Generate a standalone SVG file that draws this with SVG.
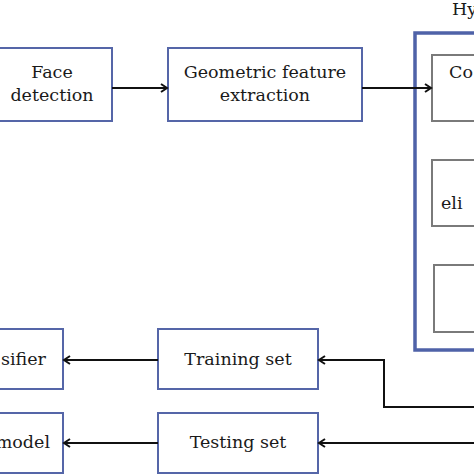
<svg xmlns="http://www.w3.org/2000/svg" width="474" height="474" viewBox="0 0 474 474">
<defs>
<marker id="ah" markerWidth="10" markerHeight="10" refX="8" refY="5" orient="auto" markerUnits="userSpaceOnUse">
<path d="M2,1 L8,5 L2,9" fill="none" stroke="#111" stroke-width="2"/>
</marker>
<style>
.box{fill:#fff;stroke:#5566a8;stroke-width:2}
.inner{fill:#fff;stroke:#7a7a7a;stroke-width:2}
.big{fill:none;stroke:#4f62a8;stroke-width:3.5}
.t{font-family:"DejaVu Serif","Liberation Serif",serif;font-size:17.5px;fill:#1a1a1a}
.c{text-anchor:middle}
.ln{fill:none;stroke:#111;stroke-width:2;marker-end:url(#ah)}
</style>
</defs>
<rect width="474" height="474" fill="#fff"/>
<g id="face">
<rect class="box" x="-5" y="48" width="117" height="73"/>
<text class="t c" x="52" y="78">Face</text>
<text class="t c" x="52" y="101">detection</text>
</g>
<g id="geometric">
<rect class="box" x="168" y="48" width="194" height="73"/>
<text class="t c" x="265" y="78">Geometric feature</text>
<text class="t c" x="265" y="101">extraction</text>
</g>
<g id="hybrid">
<text class="t" x="452" y="15">Hy</text>
<rect class="big" x="415" y="33" width="70" height="317"/>
</g>
<g id="inner1">
<rect class="inner" x="432" y="55" width="60" height="66"/>
<text class="t" x="449" y="78">Co</text>
</g>
<g id="inner2">
<rect class="inner" x="432" y="160" width="60" height="66"/>
<text class="t" x="441" y="209">eli</text>
</g>
<g id="inner3">
<rect class="inner" x="434" y="265" width="60" height="67"/>
</g>
<g id="classifier">
<rect class="box" x="-5" y="329" width="68" height="60"/>
<text class="t" x="46" y="365" text-anchor="end">sifier</text>
</g>
<g id="model">
<rect class="box" x="-5" y="413" width="68" height="60"/>
<text class="t" x="50" y="448" text-anchor="end">model</text>
</g>
<g id="training">
<rect class="box" x="158" y="329" width="160" height="60"/>
<text class="t c" x="238" y="365">Training set</text>
</g>
<g id="testing">
<rect class="box" x="158" y="413" width="160" height="60"/>
<text class="t c" x="238" y="448">Testing set</text>
</g>
<g id="connectors">
<path class="ln" d="M112,88 H167"/>
<path class="ln" d="M362,88 H431"/>
<path class="ln" d="M158,360 H64"/>
<path class="ln" d="M158,443 H64"/>
<path class="ln" d="M476,407 H384 V360 H319"/>
<path class="ln" d="M476,443 H319"/>
</g>
</svg>
